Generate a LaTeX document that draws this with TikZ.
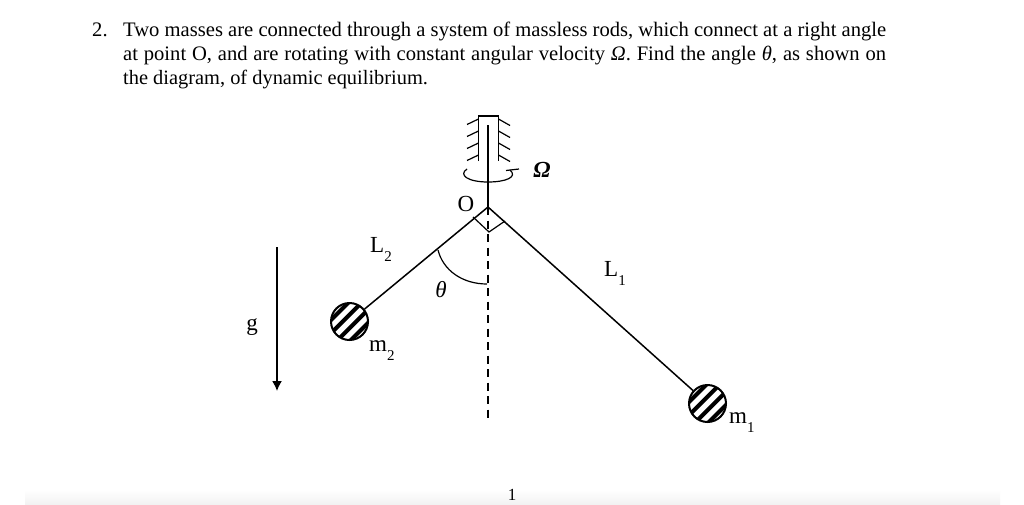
\documentclass[tikz,border=0pt]{standalone}
\usepackage{fontspec}
\setmainfont{Liberation Serif}
\usetikzlibrary{arrows.meta,calc}
\newcommand{\lowsub}[1]{\raisebox{-9.5pt}{\fontsize{15}{15}\selectfont #1}}
\tikzset{
    para-line/.style = {anchor=base west, inner sep=0pt, font=\fontsize{20.6}{24}\selectfont},
    diagram-label/.style = {inner sep=0pt, font=\fontsize{23}{24}\selectfont},
    rod/.style = {draw=black, line width=1.5pt},
    thin-rod/.style = {draw=black, line width=1.2pt},
    mass/.style = {circle, draw=black, line width=2pt, minimum size=37pt, inner sep=0pt},
}

\begin{document}
\begin{tikzpicture}[x=1pt,y=-1pt]
\useasboundingbox (0,0) rectangle (1024,504);
\fill[white] (0,0) rectangle (1024,504);
\shade[top color=white, bottom color=black!5] (25,490) rectangle (1000,504);
% problem text
\node[para-line] (num) at (92,36) {2.};
\node[para-line] (line1) at (123,36) {\makebox[763pt][s]{Two masses are connected through a system of massless rods, which connect at a right angle}};
\node[para-line] (line2) at (123,60) {\makebox[763pt][s]{at point O, and are rotating with constant angular velocity {\itshape Ω}. Find the angle {\itshape θ}, as shown on}};
\node[para-line, font=\fontsize{20.4}{24}\selectfont] (line3) at (123,84) {the diagram, of dynamic equilibrium.};
% points
\coordinate (O) at (488,207);
\coordinate (bottom) at (488,422);
\coordinate (axistop) at (488,125);
\node[mass] (m2) at (349.5,321.5) {};
\node[mass] (m1) at (707.5,403.5) {};
% hatching of the masses
\foreach \m in {m1,m2} {
    \begin{scope}
    \clip (\m.center) circle (18.5pt);
    \foreach \d in {-10,-3.35,3.35,10}
        \draw[line width=4pt] ($(\m.center)+(-25,25)+(\d,\d)$) -- ($(\m.center)+(25,-25)+(\d,\d)$);
    \end{scope}
}
% rods
\draw[rod] (axistop) -- (O);
\draw[rod] (O) -- (m2);
\draw[rod] (O) -- (m1);
\draw[rod, dash pattern=on 8pt off 5.5pt] (O) -- (bottom);
\draw[thin-rod] (473,217) -- (489,232) -- (505,221);
% bearing
\draw[rod] (478.5,161) -- (478.5,116) -- (498.5,116) -- (498.5,161);
\draw[rod, line width=2.2pt] (478.5,116) -- (498.5,116);
\foreach \y in {119,131,143,155} {
    \draw[thin-rod] (478.5,\y) -- (467,\y+5.5);
    \draw[thin-rod] (498.5,\y) -- (510,\y+6.5);
}
% rotation
\draw[thin-rod] (467,169) .. controls (458,175) and (468,182) .. (488,182) .. controls (506,182) and (518,177) .. (510,170);
\draw[thin-rod] (506,170.5) -- (519,169);
\node[diagram-label, font=\bfseries\itshape\fontsize{23}{24}\selectfont] (omega) at (542,170) {Ω};
% angle
\draw[thin-rod] (438,250) .. controls (443,270) and (462,284) .. (487,284);
\node[diagram-label, font=\itshape\fontsize{23}{24}\selectfont] (theta) at (441,290) {θ};
% gravity
\coordinate (gtop) at (277,247);
\coordinate (gend) at (277,391);
\draw[rod, -{Latex[length=10pt,width=10pt]}] (gtop) -- (gend);
\node[diagram-label, anchor=base] (g) at (252,330) {g};
% labels
\node[diagram-label] (Olabel) at (466,204) {O};
\node[diagram-label, anchor=base west] (L2) at (370,252) {L\lowsub{2}};
\node[diagram-label, anchor=base west] (L1) at (604,276) {L\lowsub{1}};
\node[diagram-label, anchor=base west] (m2label) at (369,351) {m\lowsub{2}};
\node[diagram-label, anchor=base west] (m1label) at (729,423) {m\lowsub{1}};
\node[para-line, anchor=base, font=\fontsize{17}{17}\selectfont] (page) at (512,500) {1};
\end{tikzpicture}
\end{document}
